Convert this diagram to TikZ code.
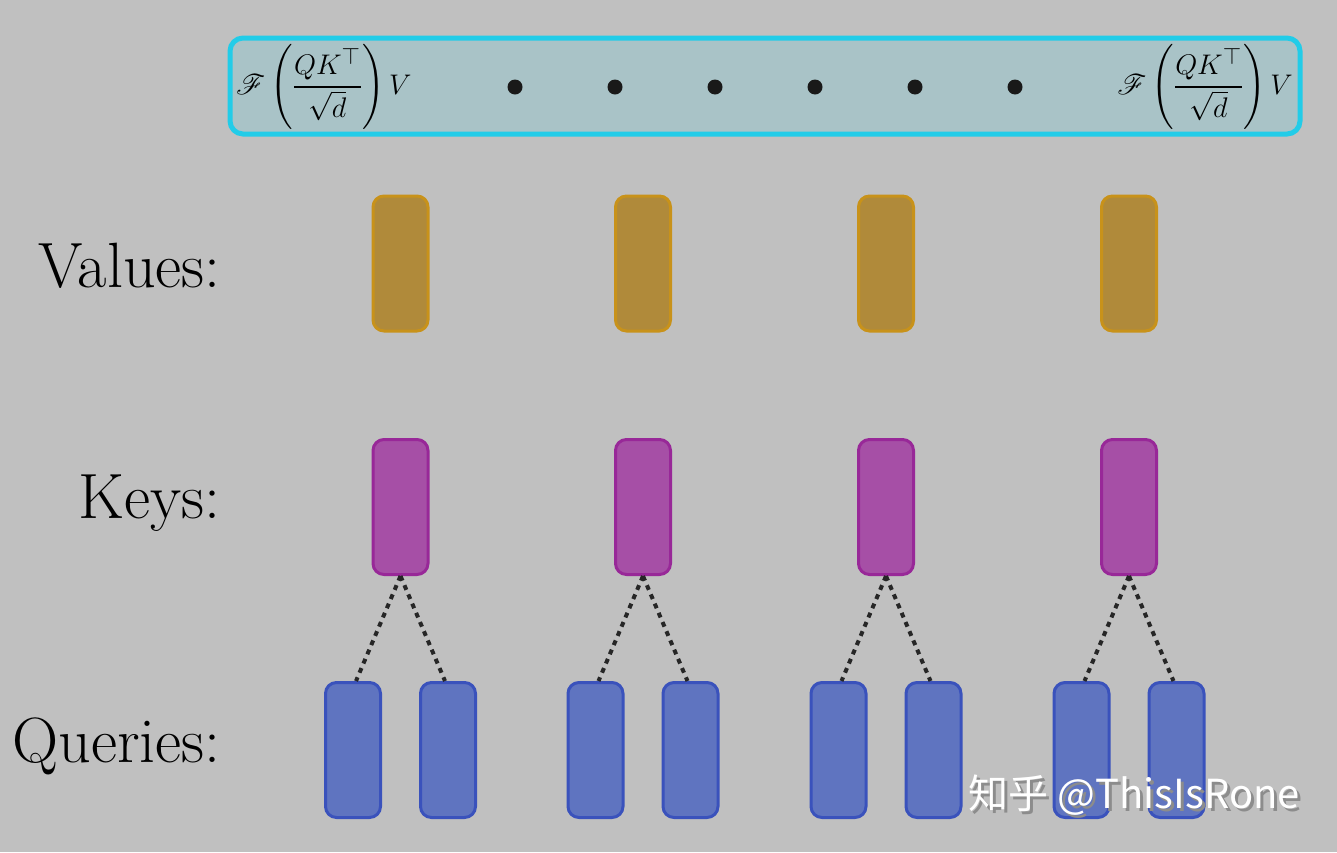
\documentclass[tikz,border=0pt]{standalone}
\usepackage{fontspec}
\usepackage{amsmath}
\usepackage{mathrsfs}
\newfontfamily\cjk{Noto Sans CJK SC}
\definecolor{bgc}{HTML}{C0C0C0}
\definecolor{topfill}{HTML}{A9C3C7}
\definecolor{topdraw}{HTML}{22CCE8}
\definecolor{valfill}{HTML}{B08A3A}
\definecolor{valdraw}{HTML}{C8921A}
\definecolor{keyfill}{HTML}{A64FA6}
\definecolor{keydraw}{HTML}{982898}
\definecolor{qfill}{HTML}{5F74C0}
\definecolor{qdraw}{HTML}{3A52BC}
\tikzset{
  x=1pt,y=-1pt,
  vec/.style={rounded corners=11pt,minimum width=55pt,minimum height=135pt,line width=3pt,inner sep=0pt},
  valbox/.style={vec,fill=valfill,draw=valdraw},
  keybox/.style={vec,fill=keyfill,draw=keydraw},
  qbox/.style={vec,fill=qfill,draw=qdraw},
  link/.style={line width=4pt,draw=black!85,dash pattern=on 5pt off 5pt},
  lbl/.style={anchor=east,font=\fontsize{64}{70}\selectfont,inner sep=0pt},
  dotc/.style={circle,fill=black!90,minimum size=15pt,inner sep=0pt},
  fml/.style={font=\fontsize{24.88}{28}\selectfont,inner sep=0pt,scale=1.14,transform shape}
}
\begin{document}
\begin{tikzpicture}
\fill[bgc] (0,0) rectangle (1337,852);
\useasboundingbox (0,0) rectangle (1337,852);
\node[draw=topdraw,fill=topfill,line width=5pt,rounded corners=13pt,minimum width=1070pt,minimum height=96pt,inner sep=0pt] (top) at (765,86) {};
\node[fml,anchor=west] (f1) at (236,87) {$\mathscr{F}\left(\dfrac{QK^{\top}}{\sqrt{d}}\right)V$};
\node[fml,anchor=east] (f2) at (1293,87) {$\mathscr{F}\left(\dfrac{QK^{\top}}{\sqrt{d}}\right)V$};
\foreach \i/\x in {1/515,2/615,3/715,4/815,5/915,6/1015}{
  \node[dotc] (d\i) at (\x,87) {};
}
\node[lbl] (lv) at (221,266) {Values:};
\node[lbl] (lk) at (221,503) {Keys:};
\node[lbl] (lq) at (221,746) {Queries:};
\foreach \i/\x in {1/400.5,2/643,3/886,4/1129}{
  \node[valbox] (v\i) at (\x,263.5) {};
  \node[keybox] (k\i) at (\x,507) {};
  \node[qbox] (qa\i) at ({\x-47.5},750) {};
  \node[qbox] (qb\i) at ({\x+47.5},750) {};
  \draw[link] (k\i.south) -- ([xshift=3pt]qa\i.north);
  \draw[link] (k\i.south) -- ([xshift=-3pt]qb\i.north);
}
\node[font=\cjk\fontsize{40}{42}\selectfont,text=black!45,anchor=east,inner sep=0pt] (wms) at (1303,798) {知乎 @ThisIsRone};
\node[font=\cjk\fontsize{40}{42}\selectfont,text=white,anchor=east,inner sep=0pt] (wm) at (1300,795) {知乎 @ThisIsRone};
\end{tikzpicture}
\end{document}
